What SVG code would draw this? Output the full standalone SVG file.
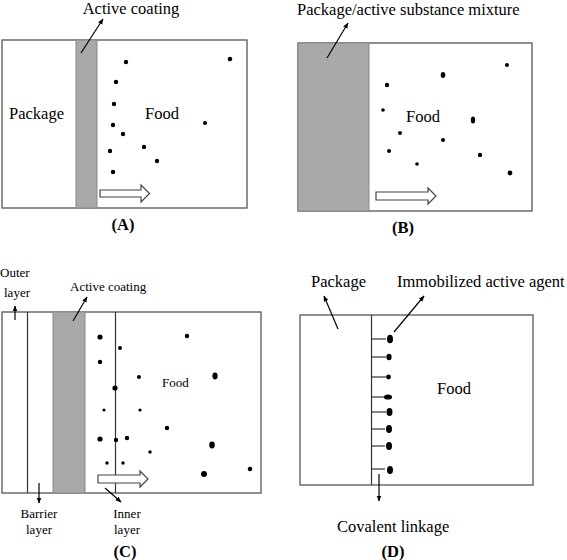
<svg xmlns="http://www.w3.org/2000/svg" width="567" height="560" viewBox="0 0 567 560">
<style>
.t{font-family:"Liberation Serif","Times New Roman",serif;font-size:16.5px;fill:#000}
.s{font-size:13px}
.b{font-weight:bold}
.box{fill:#fff;stroke:#555;stroke-width:1.3}
.gray{fill:#a9a9a9;stroke:#888;stroke-width:1}
.ln{stroke:#333;stroke-width:1.2;fill:none}
.ar{stroke:#000;stroke-width:1.2;fill:none;marker-end:url(#ah)}
.dot{fill:#000}
.hol{fill:#fff;stroke:#444;stroke-width:1.2}
</style>
<defs>
<marker id="ah" viewBox="0 0 10 10" refX="9" refY="5" markerWidth="6" markerHeight="6" orient="auto" markerUnits="userSpaceOnUse">
<path d="M0,1 L10,5 L0,9 Z" fill="#000"/>
</marker>
</defs>

<!-- Panel A -->
<g id="panelA">
<rect class="box" x="2" y="40" width="245" height="168"/>
<rect class="gray" x="76" y="40" width="21" height="168"/>
<text class="t" x="9" y="119">Package</text>
<text class="t" x="145" y="119">Food</text>
<text class="t" x="131" y="14" text-anchor="middle">Active coating</text>
<g class="dot">
<circle cx="126" cy="62" r="2.2"/><circle cx="116" cy="82" r="2.2"/><circle cx="114" cy="104" r="2.2"/>
<circle cx="113" cy="125" r="2.2"/><circle cx="123" cy="134" r="2.2"/><circle cx="144" cy="147" r="2.2"/>
<circle cx="110" cy="151" r="2.2"/><circle cx="157" cy="161" r="2.2"/><circle cx="113" cy="172" r="2.2"/>
<circle cx="230" cy="59" r="2.3"/><circle cx="205" cy="123" r="2"/>
</g>
<path class="hol" d="M100,190 L141,190 L141,185 L149.5,193.5 L141,202 L141,197 L100,197 Z"/>
<text class="t b" x="123" y="230" text-anchor="middle">(A)</text>
</g>

<!-- Panel B -->
<g id="panelB">
<rect class="box" x="298" y="43" width="234" height="168"/>
<rect class="gray" x="298" y="43" width="71" height="168"/>
<text class="t" x="297" y="15">Package/active substance mixture</text>
<text class="t" x="406" y="122">Food</text>
<g class="dot">
<circle cx="387" cy="85" r="2.2"/><circle cx="383" cy="110" r="1.8"/><circle cx="400" cy="133" r="2"/>
<circle cx="389" cy="151" r="2"/><circle cx="417" cy="164" r="1.8"/><ellipse cx="443" cy="75" rx="2.3" ry="3"/>
<circle cx="443" cy="140" r="2"/><ellipse cx="473" cy="120" rx="2.2" ry="3.6"/><circle cx="480" cy="155" r="2.2"/>
<circle cx="507" cy="65" r="2"/><circle cx="510" cy="173" r="2.4"/>
</g>
<path class="hol" d="M376,192 L428,192 L428,188 L436,196 L428,204 L428,200 L376,200 Z"/>
<text class="t b" x="403" y="233" text-anchor="middle">(B)</text>
</g>

<!-- Panel C -->
<g id="panelC">
<rect class="box" x="2" y="312" width="259" height="181"/>
<line class="ln" x1="27.5" y1="312" x2="27.5" y2="493"/>
<rect class="gray" x="53" y="312" width="32" height="181"/>
<line class="ln" x1="115.5" y1="312" x2="115.5" y2="493"/>
<text class="t s" x="0" y="277">Outer</text>
<text class="t s" x="4" y="297">layer</text>
<text class="t s" x="70" y="291">Active coating</text>
<text class="t s" x="162" y="387">Food</text>
<text class="t s" x="39" y="518" text-anchor="middle">Barrier</text>
<text class="t s" x="39" y="534" text-anchor="middle">layer</text>
<text class="t s" x="127" y="518" text-anchor="middle">Inner</text>
<text class="t s" x="127" y="534" text-anchor="middle">layer</text>
<g class="dot">
<circle cx="100" cy="337" r="2.6"/><circle cx="120" cy="348" r="2"/><circle cx="100" cy="362" r="2.2"/>
<circle cx="187" cy="336" r="2.2"/><circle cx="139" cy="377" r="2"/><circle cx="115" cy="388" r="2.6"/>
<ellipse cx="215" cy="376" rx="2.6" ry="3.4"/><circle cx="104" cy="410" r="1.6"/><circle cx="140" cy="410" r="1.6"/>
<circle cx="167" cy="428" r="2.2"/><circle cx="100" cy="439" r="2.6"/><circle cx="116" cy="440" r="2.2"/>
<circle cx="127" cy="438" r="2.2"/><ellipse cx="212" cy="445" rx="2.8" ry="3.4"/><circle cx="150" cy="452" r="1.7"/>
<circle cx="107" cy="463" r="1.7"/><circle cx="123" cy="463" r="1.7"/><circle cx="204" cy="474" r="3"/>
<circle cx="250" cy="469" r="2.3"/>
</g>
<path class="hol" d="M98,475 L140,475 L140,471 L148,479 L140,487 L140,483 L98,483 Z"/>
<text class="t b" x="125" y="557" text-anchor="middle">(C)</text>
</g>

<!-- Panel D -->
<g id="panelD">
<rect class="box" x="300" y="315" width="233" height="170"/>
<line class="ln" x1="371.5" y1="315" x2="371.5" y2="485"/>
<text class="t" x="311" y="287">Package</text>
<text class="t" x="397" y="287">Immobilized active agent</text>
<text class="t" x="437" y="394">Food</text>
<text class="t" x="337" y="532">Covalent linkage</text>
<g class="ln">
<line x1="372" y1="339" x2="386" y2="339"/><line x1="372" y1="357" x2="386" y2="357"/>
<line x1="372" y1="377" x2="386" y2="377"/><line x1="372" y1="397" x2="385" y2="397"/>
<line x1="372" y1="412" x2="386" y2="412"/><line x1="372" y1="429" x2="385" y2="429"/>
<line x1="372" y1="446" x2="385" y2="446"/><line x1="372" y1="469" x2="385" y2="469"/>
</g>
<g class="dot">
<ellipse cx="390" cy="339" rx="3" ry="4.3"/><ellipse cx="389" cy="357" rx="2.6" ry="3.2"/>
<ellipse cx="388.5" cy="377" rx="2.4" ry="2.4"/><ellipse cx="388" cy="397" rx="4" ry="2.6"/>
<ellipse cx="389.5" cy="412" rx="3" ry="4"/><ellipse cx="389" cy="429" rx="3" ry="4"/>
<ellipse cx="389" cy="446" rx="3" ry="4"/><ellipse cx="390" cy="470" rx="3" ry="4"/>
</g>
<text class="t b" x="393" y="557" text-anchor="middle">(D)</text>
</g>

<!-- Connectors -->
<g id="connectors">
<line class="ar" x1="81" y1="53" x2="103" y2="19"/>
<line class="ar" x1="327" y1="58" x2="348" y2="23"/>
<line class="ar" x1="15" y1="320" x2="15" y2="306"/>
<line class="ar" x1="73" y1="321" x2="87" y2="297"/>
<line class="ar" x1="39" y1="483" x2="39" y2="503"/>
<line class="ar" x1="105" y1="488" x2="121" y2="502"/>
<line class="ar" x1="338" y1="329" x2="324" y2="296"/>
<line class="ar" x1="394" y1="332" x2="424" y2="296"/>
<line class="ar" x1="379" y1="474" x2="379" y2="501"/>
</g>
</svg>
